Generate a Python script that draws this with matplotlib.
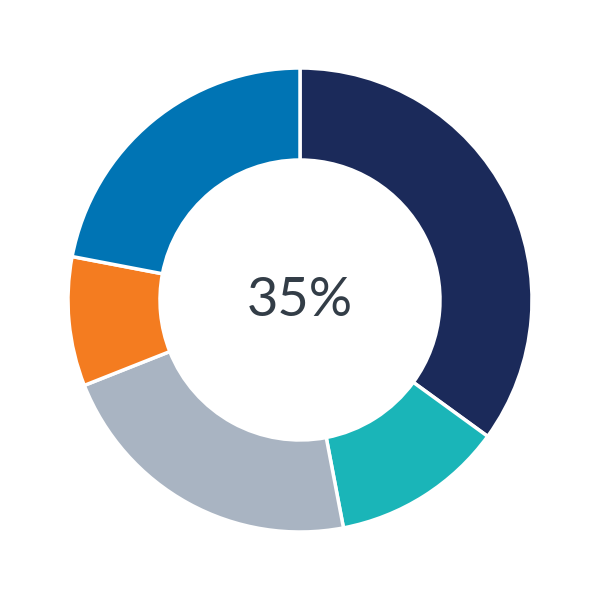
import matplotlib.pyplot as plt

# slice shares, clockwise from top
labels = ["navy", "teal", "gray", "orange", "blue"]
values = [35, 12, 22, 9, 22]
colors = ["#1b2a5a", "#1ab5b8", "#a9b4c2", "#f47c20", "#0074b4"]
center_text = "35%"

fig = plt.figure(figsize=(6, 6), dpi=100)
ax = fig.add_axes([0, 0, 1, 1])

ax.pie(values, colors=colors, startangle=90, counterclock=False,
       radius=1.0,
       wedgeprops=dict(width=1 - 140 / 232, edgecolor="white", linewidth=2.5))

ax.text(0, 0, center_text, ha="center", va="center", fontsize=39,
        color="#333d47", family=["Lato", "DejaVu Sans"], fontweight="normal")

lim = 300 / 232
ax.set_xlim(-lim, lim)
ax.set_ylim(-lim, lim)
ax.set_aspect("equal")
ax.axis("off")

fig.savefig("out.png", dpi=100, facecolor="white")
